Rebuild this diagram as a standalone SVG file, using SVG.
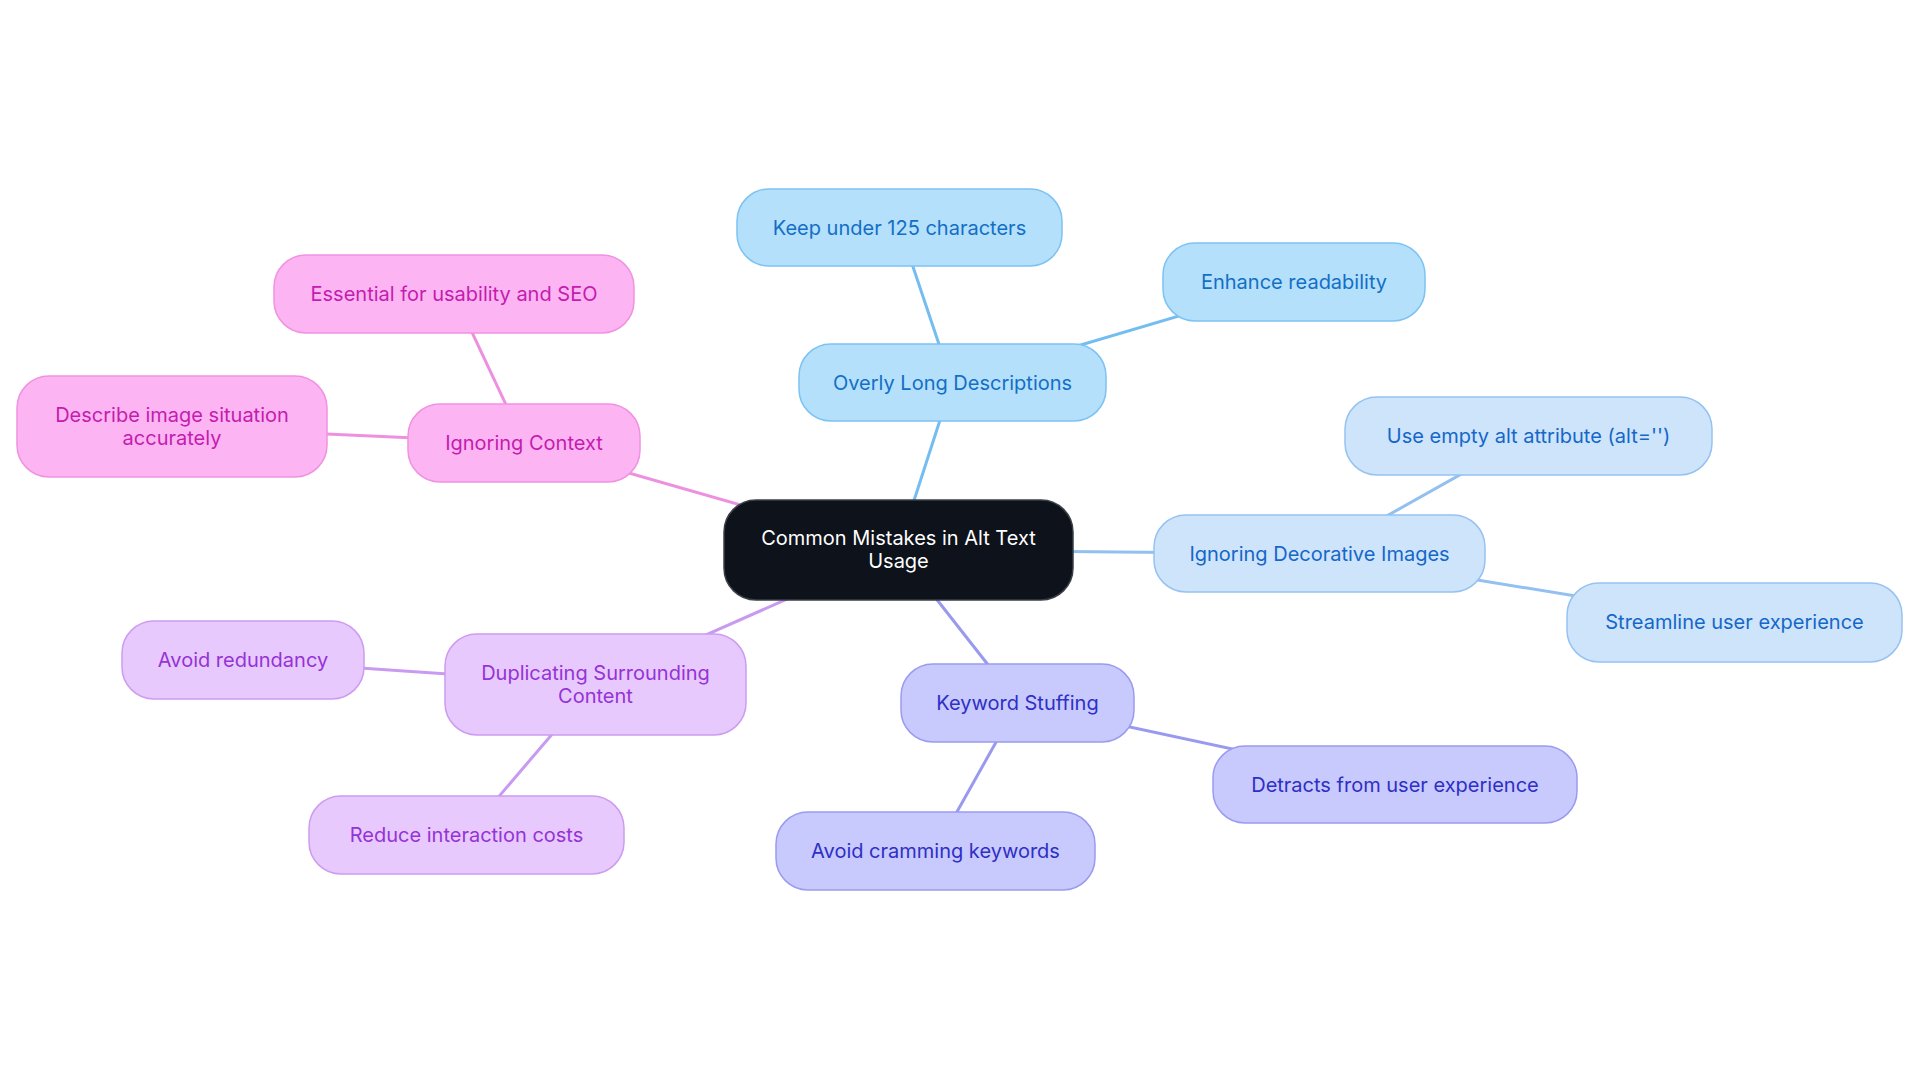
<svg xmlns="http://www.w3.org/2000/svg" width="1920" height="1083" viewBox="0 0 1920 1083">
<style>
text{font-family:Inter,"Noto Sans",sans-serif;font-size:20px;text-anchor:middle}
.e{fill:none;stroke-width:3;stroke-linecap:round}
.b1 rect{fill:#b4e0fc;stroke:#7cc2f2;stroke-width:1.5}.b1 text{fill:#136fc4}
.b2 rect{fill:#cde4fb;stroke:#96c2f1;stroke-width:1.5}.b2 text{fill:#1567c8}
.k rect{fill:#c8c9fc;stroke:#9a9bf0;stroke-width:1.5}.k text{fill:#2e2fc6}
.d rect{fill:#e7c9fd;stroke:#cc9cf0;stroke-width:1.5}.d text{fill:#9533d6}
.p rect{fill:#fdb4f2;stroke:#ef92e1;stroke-width:1.5}.p text{fill:#c41caf}
</style>
<rect width="1920" height="1083" fill="#ffffff"/>
<g id="connectors">
<line class="e" stroke="#74bdf0" x1="898" y1="550" x2="952" y2="383"/>
<line class="e" stroke="#74bdf0" x1="952" y1="383" x2="900" y2="228"/>
<line class="e" stroke="#74bdf0" x1="952" y1="383" x2="1294" y2="282"/>
<line class="e" stroke="#92c0f0" x1="898" y1="550" x2="1319" y2="554"/>
<line class="e" stroke="#92c0f0" x1="1319" y1="554" x2="1529" y2="436"/>
<line class="e" stroke="#92c0f0" x1="1319" y1="554" x2="1734" y2="622"/>
<line class="e" stroke="#9999f0" x1="898" y1="550" x2="1018" y2="703"/>
<line class="e" stroke="#9999f0" x1="1018" y1="703" x2="1395" y2="784"/>
<line class="e" stroke="#9999f0" x1="1018" y1="703" x2="935" y2="851"/>
<line class="e" stroke="#c89af0" x1="898" y1="550" x2="595" y2="684"/>
<line class="e" stroke="#c89af0" x1="595" y1="684" x2="243" y2="660"/>
<line class="e" stroke="#c89af0" x1="595" y1="684" x2="466" y2="835"/>
<line class="e" stroke="#ee90e0" x1="898" y1="550" x2="524" y2="443"/>
<line class="e" stroke="#ee90e0" x1="524" y1="443" x2="454" y2="294"/>
<line class="e" stroke="#ee90e0" x1="524" y1="443" x2="172" y2="427"/>
</g>
<g id="root"><rect x="724" y="500" width="349" height="100" rx="32" fill="#0d121b" stroke="#3a3f48" stroke-width="1.5"/><text x="898.5" y="545" fill="#ffffff">Common Mistakes in Alt Text</text><text x="898.5" y="568" fill="#ffffff">Usage</text></g>
<g id="n-overly" class="b1"><rect x="799" y="344" width="307" height="77" rx="32"/><text x="952.5" y="390">Overly Long Descriptions</text></g>
<g id="n-keep" class="b1"><rect x="737" y="189" width="325" height="77" rx="32"/><text x="899.5" y="235">Keep under 125 characters</text></g>
<g id="n-enhance" class="b1"><rect x="1163" y="243" width="262" height="78" rx="32"/><text x="1294" y="289">Enhance readability</text></g>
<g id="n-decorative" class="b2"><rect x="1154" y="515" width="331" height="77" rx="32"/><text x="1319.5" y="561">Ignoring Decorative Images</text></g>
<g id="n-emptyalt" class="b2"><rect x="1345" y="397" width="367" height="78" rx="32"/><text x="1528.5" y="443">Use empty alt attribute (alt='')</text></g>
<g id="n-streamline" class="b2"><rect x="1567" y="583" width="335" height="79" rx="32"/><text x="1734.5" y="629">Streamline user experience</text></g>
<g id="n-keyword" class="k"><rect x="901" y="664" width="233" height="78" rx="32"/><text x="1017.5" y="710">Keyword Stuffing</text></g>
<g id="n-detracts" class="k"><rect x="1213" y="746" width="364" height="77" rx="32"/><text x="1395" y="792">Detracts from user experience</text></g>
<g id="n-cramming" class="k"><rect x="776" y="812" width="319" height="78" rx="32"/><text x="935.5" y="858">Avoid cramming keywords</text></g>
<g id="n-duplicating" class="d"><rect x="445" y="634" width="301" height="101" rx="32"/><text x="595.5" y="680">Duplicating Surrounding</text><text x="595.5" y="703">Content</text></g>
<g id="n-redundancy" class="d"><rect x="122" y="621" width="242" height="78" rx="32"/><text x="243" y="667">Avoid redundancy</text></g>
<g id="n-reduce" class="d"><rect x="309" y="796" width="315" height="78" rx="32"/><text x="466.5" y="842">Reduce interaction costs</text></g>
<g id="n-context" class="p"><rect x="408" y="404" width="232" height="78" rx="32"/><text x="524" y="450">Ignoring Context</text></g>
<g id="n-essential" class="p"><rect x="274" y="255" width="360" height="78" rx="32"/><text x="454" y="301">Essential for usability and SEO</text></g>
<g id="n-describe" class="p"><rect x="17" y="376" width="310" height="101" rx="32"/><text x="172" y="422">Describe image situation</text><text x="172" y="445">accurately</text></g>
</svg>
